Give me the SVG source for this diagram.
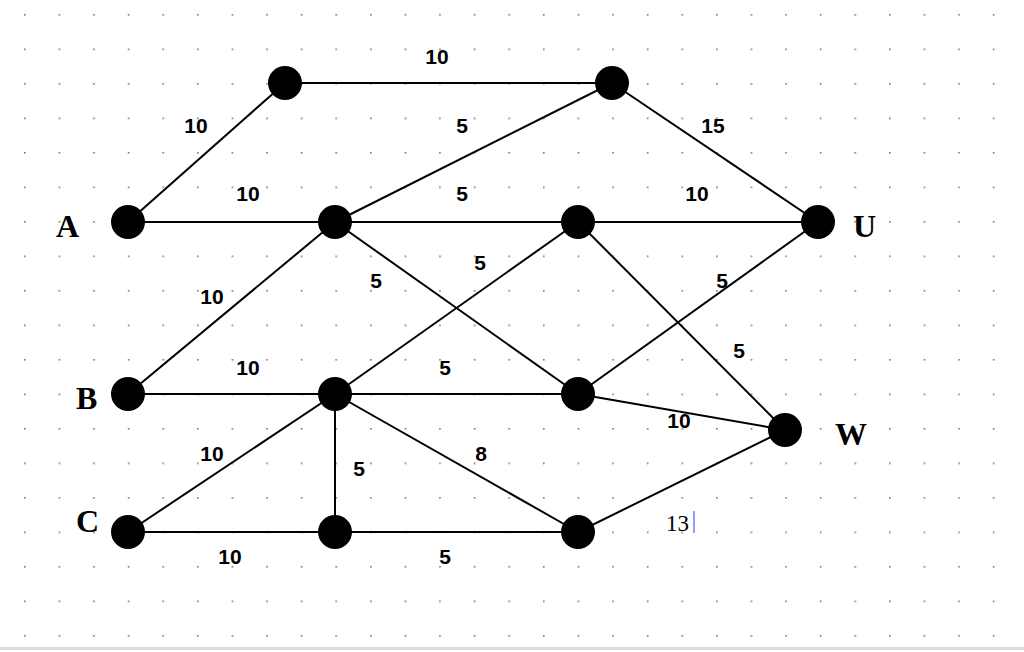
<svg xmlns="http://www.w3.org/2000/svg" width="1024" height="652" viewBox="0 0 1024 652">
<style>
.e{stroke:#000;stroke-width:2;fill:none}
.n{fill:#000}
.w{font-family:"Liberation Sans",Arial,sans-serif;font-weight:bold;font-size:21px;fill:#000;text-anchor:middle}
.l{font-family:"Liberation Serif","Times New Roman",serif;font-weight:bold;font-size:32px;fill:#000}
</style>
<defs>
<pattern id="g" x="24" y="14" width="34.6" height="34.5" patternUnits="userSpaceOnUse">
<rect x="0" y="0" width="1.6" height="1.6" fill="#777"/>
</pattern>
</defs>
<rect width="1024" height="652" fill="#fff"/>
<rect x="0" y="0" width="1010" height="646" fill="url(#g)"/>
<line x1="0" y1="648.5" x2="1024" y2="648.5" stroke="#d8dde2" stroke-width="3"/>
<g id="connectors">
<line class="e" x1="128" y1="222" x2="285" y2="83"/>
<line class="e" x1="285" y1="83" x2="612" y2="83"/>
<line class="e" x1="612" y1="83" x2="818" y2="222"/>
<line class="e" x1="612" y1="83" x2="335" y2="222"/>
<line class="e" x1="128" y1="222" x2="335" y2="222"/>
<line class="e" x1="335" y1="222" x2="578" y2="222"/>
<line class="e" x1="578" y1="222" x2="818" y2="222"/>
<line class="e" x1="335" y1="222" x2="128" y2="394"/>
<line class="e" x1="335" y1="222" x2="578" y2="394"/>
<line class="e" x1="578" y1="222" x2="335" y2="394"/>
<line class="e" x1="578" y1="222" x2="785" y2="430"/>
<line class="e" x1="818" y1="222" x2="578" y2="394"/>
<line class="e" x1="128" y1="394" x2="335" y2="394"/>
<line class="e" x1="335" y1="394" x2="578" y2="394"/>
<line class="e" x1="578" y1="394" x2="785" y2="430"/>
<line class="e" x1="335" y1="394" x2="128" y2="532"/>
<line class="e" x1="335" y1="394" x2="335" y2="532"/>
<line class="e" x1="335" y1="394" x2="578" y2="532"/>
<line class="e" x1="128" y1="532" x2="335" y2="532"/>
<line class="e" x1="335" y1="532" x2="578" y2="532"/>
<line class="e" x1="578" y1="532" x2="785" y2="430"/>
</g>
<g id="labels">
<text class="w" x="437" y="64">10</text>
<text class="w" x="196" y="133">10</text>
<text class="w" x="462" y="133">5</text>
<text class="w" x="713" y="133">15</text>
<text class="w" x="248" y="201">10</text>
<text class="w" x="462" y="201">5</text>
<text class="w" x="697" y="201">10</text>
<text class="w" x="480" y="270">5</text>
<text class="w" x="376" y="288">5</text>
<text class="w" x="722" y="288">5</text>
<text class="w" x="212" y="304">10</text>
<text class="w" x="739" y="358">5</text>
<text class="w" x="248" y="375">10</text>
<text class="w" x="445" y="375">5</text>
<text class="w" x="679" y="428">10</text>
<text class="w" x="212" y="461">10</text>
<text class="w" x="481" y="461">8</text>
<text class="w" x="359" y="476">5</text>
<text class="w" x="230" y="564">10</text>
<text class="w" x="445" y="564">5</text>
<text x="666" y="531" font-family="Liberation Serif,serif" font-size="23" fill="#000">13</text>
<line x1="694" y1="511" x2="694" y2="533" stroke="#4a5cff" stroke-width="1.2"/>
</g>
<g id="A"><circle class="n" cx="128" cy="222" r="17"/><text class="l" x="56" y="237">A</text></g>
<g id="T1"><circle class="n" cx="285" cy="83" r="17"/></g>
<g id="T2"><circle class="n" cx="612" cy="83" r="17"/></g>
<g id="M1"><circle class="n" cx="335" cy="222" r="17"/></g>
<g id="M2"><circle class="n" cx="578" cy="222" r="17"/></g>
<g id="U"><circle class="n" cx="818" cy="222" r="17"/><text class="l" x="853" y="237">U</text></g>
<g id="B"><circle class="n" cx="128" cy="394" r="17"/><text class="l" x="76" y="409">B</text></g>
<g id="M3"><circle class="n" cx="335" cy="394" r="17"/></g>
<g id="M4"><circle class="n" cx="578" cy="394" r="17"/></g>
<g id="W"><circle class="n" cx="785" cy="430" r="17"/><text class="l" x="835" y="445">W</text></g>
<g id="C"><circle class="n" cx="128" cy="532" r="17"/><text class="l" x="76" y="532">C</text></g>
<g id="M5"><circle class="n" cx="335" cy="532" r="17"/></g>
<g id="M6"><circle class="n" cx="578" cy="532" r="17"/></g>
</svg>
